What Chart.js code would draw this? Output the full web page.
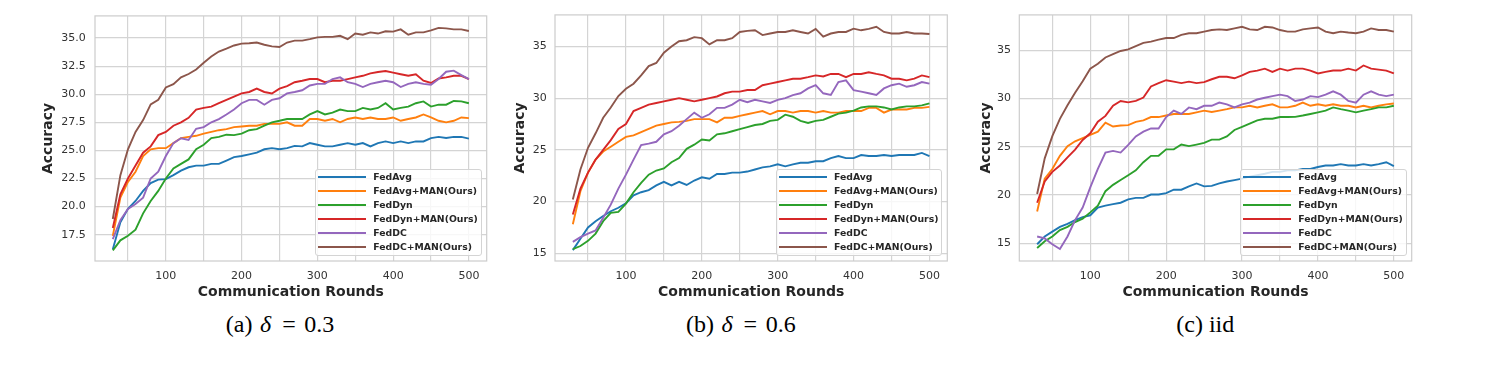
<!DOCTYPE html>
<html><head><meta charset="utf-8">
<script src="https://cdn.jsdelivr.net/npm/chart.js@4.4.1/dist/chart.umd.min.js"></script>
<style>
html,body{margin:0;padding:0;background:#fff;width:1489px;height:373px;overflow:hidden;}
body{position:relative;font-family:'DejaVu Sans',sans-serif;}
canvas{position:absolute;top:0;}
.legend{position:absolute;box-sizing:border-box;border:1px solid #d4d4d4;border-radius:3px;background:rgba(255,255,255,0.8);}
.sw{position:absolute;height:2.4px;}
.lt{position:absolute;font-family:'DejaVu Sans',sans-serif;font-weight:bold;font-size:9.3px;color:#262626;white-space:nowrap;line-height:12px;height:12px;}
.cap{position:absolute;top:312px;width:240px;text-align:center;font-family:'Liberation Serif',serif;font-size:24px;line-height:24px;white-space:nowrap;color:#000;}
.cap span{display:inline-block;}
</style></head><body>
<canvas id="ca" width="490" height="302" style="left:0px"></canvas>
<canvas id="cb" width="458" height="302" style="left:492px"></canvas>
<canvas id="cc" width="440" height="302" style="left:975px"></canvas>
<div class="cap" style="left:160px"><span>(a)</span><span style="margin-left:7.5px;font-style:italic">δ</span><span style="margin-left:11px">=</span><span style="margin-left:8.5px">0.3</span></div>
<div class="cap" style="left:620.8px"><span>(b)</span><span style="margin-left:7.5px;font-style:italic">δ</span><span style="margin-left:11px">=</span><span style="margin-left:8.5px">0.6</span></div>
<div class="cap" style="left:1085.3px">(c) iid</div>
<script>
const rounds = [30,40,50,60,70,80,90,100,110,120,130,140,150,160,170,180,190,200,210,220,230,240,250,260,270,280,290,300,310,320,330,340,350,360,370,380,390,400,410,420,430,440,450,460,470,480,490,500];
const seriesLabels = ['FedAvg','FedAvg+MAN(Ours)','FedDyn','FedDyn+MAN(Ours)','FedDC','FedDC+MAN(Ours)'];
const seriesColors = ['#1f77b4','#ff7f0e','#2ca02c','#d62728','#9467bd','#8c564b'];
const xGridTicks = [50,100,150,200,250,300,350,400,450,500];
const xLabelTicks = [100,200,300,400,500];
const yTicksA = [17.5,20,22.5,25,27.5,30,32.5,35];
const yTicksB = [15,20,25,30,35];
const yTicksC = [15,20,25,30,35];

// (a) delta = 0.3
const a_fedavg = [16.2,18.6,19.8,20.5,21.4,22.1,22.4,22.45,22.8,23.2,23.5,23.65,23.65,23.8,23.8,24.1,24.4,24.5,24.65,24.8,25.1,25.2,25.1,25.2,25.4,25.36,25.65,25.5,25.36,25.36,25.5,25.65,25.5,25.65,25.36,25.65,25.8,25.65,25.8,25.65,25.8,25.8,26.1,26.2,26.1,26.2,26.2,26.05];
const a_fedavg_man = [17.4,20.8,22.2,23.1,24.5,25.1,25.2,25.2,25.65,26.1,26.2,26.3,26.5,26.65,26.8,26.9,27.07,27.13,27.2,27.2,27.36,27.36,27.36,27.5,27.2,27.2,27.8,27.8,27.64,27.8,27.5,27.8,27.93,27.8,27.93,27.8,27.8,27.93,27.64,27.8,27.93,28.2,27.93,27.64,27.5,27.64,27.93,27.87];
const a_feddyn = [16.1,17.0,17.4,17.95,19.4,20.5,21.4,22.5,23.4,23.8,24.2,25.1,25.5,26.1,26.2,26.4,26.36,26.5,26.8,26.9,27.2,27.5,27.64,27.8,27.8,27.8,28.2,28.5,28.2,28.36,28.64,28.5,28.5,28.78,28.64,28.78,29.2,28.64,28.78,28.9,29.2,29.36,28.9,29.07,29.07,29.4,29.36,29.2];
const a_feddyn_man = [18.1,21.1,22.5,23.65,24.8,25.36,26.36,26.65,27.2,27.5,27.9,28.64,28.78,28.9,29.2,29.5,29.78,30.07,30.2,30.5,30.2,30.07,30.5,30.72,31.07,31.2,31.35,31.35,31.07,31.2,31.2,31.35,31.5,31.64,31.86,31.98,32.06,31.92,31.78,31.64,31.78,31.2,31.0,31.4,31.5,31.64,31.64,31.35];
const a_feddc = [17.1,18.8,19.8,20.23,20.8,22.5,23.1,24.5,25.65,26.08,25.93,26.93,27.07,27.5,27.79,28.2,28.64,29.2,29.5,29.5,29.07,29.5,29.64,30.07,30.2,30.35,30.78,30.92,30.92,31.35,31.5,31.07,30.92,30.64,30.92,31.07,31.2,31.07,30.64,30.92,31.07,30.92,30.85,31.35,32.0,32.1,31.7,31.35];
const a_feddc_man = [18.9,22.8,25.1,26.65,27.7,29.1,29.5,30.6,30.9,31.5,31.8,32.2,32.8,33.35,33.8,34.06,34.34,34.5,34.54,34.6,34.4,34.26,34.2,34.6,34.77,34.77,34.9,35.06,35.1,35.1,35.2,34.9,35.4,35.3,35.5,35.4,35.6,35.57,35.77,35.3,35.5,35.5,35.68,35.9,35.86,35.77,35.77,35.63];

// (b) delta = 0.6
const b_fedavg = [15.3,16.4,17.5,18.1,18.6,19.06,19.4,19.84,20.6,20.9,21.1,21.56,21.9,21.56,21.9,21.6,22.03,22.34,22.2,22.66,22.66,22.8,22.8,22.9,23.1,23.3,23.4,23.6,23.4,23.6,23.75,23.75,23.9,23.9,24.2,24.4,24.2,24.2,24.5,24.4,24.4,24.5,24.4,24.5,24.5,24.5,24.7,24.4];
const b_fedavg_man = [17.8,21.0,22.8,24.06,24.84,25.3,25.78,26.25,26.4,26.72,27.03,27.34,27.5,27.66,27.7,27.8,27.97,27.97,27.97,27.66,28.1,28.1,28.28,28.44,28.6,28.75,28.44,28.75,28.75,28.6,28.75,28.75,28.6,28.75,28.6,28.6,28.75,28.75,28.75,29.06,29.06,28.6,28.9,28.9,28.9,29.06,29.06,29.16];
const b_feddyn = [15.4,15.7,16.2,16.9,18.1,18.9,19.0,19.8,20.9,21.8,22.6,23.0,23.2,23.8,24.2,25.1,25.5,26.0,25.9,26.5,26.6,26.8,27.0,27.2,27.4,27.5,27.8,27.9,28.4,28.2,27.8,27.6,27.8,27.9,28.2,28.5,28.6,28.8,29.1,29.2,29.2,29.1,28.9,29.1,29.2,29.2,29.3,29.5];
const b_feddyn_man = [18.75,21.25,22.8,24.06,25.0,25.94,27.03,27.5,28.75,29.06,29.38,29.53,29.69,29.84,30.0,29.84,29.69,29.84,30.0,30.16,30.47,30.63,30.63,30.78,30.78,31.25,31.4,31.56,31.72,31.88,31.88,32.03,32.2,32.1,32.34,32.34,32.03,32.34,32.34,32.5,32.34,32.2,31.88,31.88,31.72,31.88,32.2,32.03];
const b_feddc = [16.1,16.56,16.9,17.2,18.44,19.7,21.25,22.6,24.06,25.47,25.6,25.78,26.5,26.8,27.34,27.97,28.6,28.1,28.44,29.06,29.06,29.38,29.84,29.6,29.84,29.69,29.53,29.84,30.0,30.3,30.47,30.94,31.25,30.47,30.3,31.56,31.72,30.78,30.63,30.47,30.3,30.94,31.25,31.4,31.1,31.25,31.56,31.4];
const b_feddc_man = [20.2,23.1,25.2,26.6,28.1,29.1,30.2,30.9,31.4,32.2,33.1,33.4,34.4,35.0,35.5,35.6,35.9,35.8,35.2,35.6,35.6,35.8,36.4,36.5,36.56,36.1,36.25,36.4,36.4,36.56,36.4,36.25,36.7,35.94,36.25,36.4,36.4,36.72,36.56,36.7,36.9,36.4,36.25,36.25,36.4,36.25,36.25,36.2];

// (c) iid
const c_fedavg = [14.9,15.7,16.2,16.7,17.0,17.4,17.7,17.9,18.7,18.9,19.05,19.2,19.55,19.7,19.7,20.05,20.05,20.2,20.55,20.55,20.9,21.2,20.9,20.95,21.2,21.4,21.55,21.7,21.9,22.05,22.2,22.4,22.4,22.55,22.55,22.7,22.7,22.9,23.06,23.06,23.2,23.06,23.06,23.2,23.06,23.2,23.4,23.0];
const c_fedavg_man = [18.3,21.7,22.7,24.06,25.07,25.57,25.9,26.24,26.57,27.5,27.1,27.2,27.24,27.58,27.74,28.08,28.08,28.24,28.4,28.4,28.4,28.57,28.75,28.6,28.75,28.9,29.08,29.08,29.25,29.08,29.25,29.4,29.08,29.08,29.25,29.58,29.25,29.4,29.25,29.4,29.25,29.25,29.08,29.25,29.08,29.25,29.4,29.48];
const c_feddyn = [14.5,15.2,15.7,16.37,16.7,17.2,17.54,18.2,18.9,20.4,21.05,21.55,22.05,22.56,23.4,24.06,24.06,24.73,24.73,25.23,25.07,25.23,25.4,25.74,25.74,26.07,26.74,27.07,27.4,27.74,27.9,27.9,28.08,28.08,28.1,28.24,28.4,28.57,28.75,29.08,28.9,28.75,28.57,28.75,28.9,29.08,29.08,29.25];
const c_feddyn_man = [19.2,21.4,22.4,23.06,23.9,24.7,25.7,26.4,27.6,28.2,29.25,29.75,29.6,29.75,30.1,31.25,31.6,31.9,31.75,31.6,31.75,31.6,31.7,32.0,32.26,32.26,32.1,32.4,32.76,32.9,33.1,32.76,33.1,32.9,33.1,33.1,32.9,32.6,32.76,32.9,32.9,33.1,32.9,33.43,33.1,33.0,32.9,32.6];
const c_feddc = [15.7,15.5,14.9,14.4,15.7,17.4,18.7,20.8,22.7,24.4,24.57,24.4,25.2,26.07,26.57,26.9,26.9,28.08,28.75,28.4,29.08,28.9,29.25,29.25,29.58,29.4,29.08,29.4,29.58,29.9,30.08,30.25,30.4,30.25,29.75,29.9,30.25,30.15,30.4,30.75,30.4,29.75,29.58,30.4,30.75,30.4,30.25,30.4];
const c_feddc_man = [20.1,23.8,26.1,27.9,29.3,30.6,31.8,33.1,33.6,34.26,34.6,34.93,35.1,35.43,35.77,35.9,36.1,36.27,36.27,36.6,36.77,36.77,36.94,37.1,37.17,37.1,37.27,37.44,37.17,37.1,37.44,37.37,37.1,36.94,36.94,37.17,37.27,37.37,36.94,36.77,36.94,36.84,36.77,36.94,37.27,37.1,37.1,36.94];

const gridColor = '#d4d4d4';
const framePlugin = {
  id: 'frame',
  afterDatasetsDraw(chart) {
    const {ctx, chartArea: {left, top, right, bottom}} = chart;
    ctx.save();
    ctx.strokeStyle = '#cccccc';
    ctx.lineWidth = 1.2;
    ctx.strokeRect(left, top, right - left, bottom - top);
    ctx.restore();
  }
};

function makePanel(p) {
  const datasets = p.series.map((vals, i) => ({
    label: seriesLabels[i],
    data: vals.map((v, k) => ({x: rounds[k], y: v})),
    borderColor: seriesColors[i],
    backgroundColor: seriesColors[i],
    borderWidth: 1.9,
    pointRadius: 0,
    fill: false,
    tension: 0,
    order: 5 - i
  }));
  new Chart(document.getElementById(p.id), {
    type: 'line',
    data: {datasets},
    options: {
      responsive: false,
      animation: false,
      devicePixelRatio: 1,
      layout: {padding: {left: 0, top: 6, right: p.padRight, bottom: 0}},
      plugins: {legend: {display: false}, tooltip: {enabled: false}},
      scales: {
        x: {
          type: 'linear', min: 6.5, max: 523.5,
          afterBuildTicks: s => { s.ticks = xGridTicks.map(v => ({value: v})); },
          afterFit: s => { s.height = 41; },
          grid: {color: gridColor, lineWidth: 1.2, drawTicks: false},
          border: {display: false},
          ticks: {
            padding: 8.5, autoSkip: false, maxRotation: 0,
            font: {family: 'DejaVu Sans', size: 11}, color: '#333333',
            callback: v => xLabelTicks.includes(v) ? String(v) : ''
          },
          title: {
            display: true, text: 'Communication Rounds', color: '#262626',
            font: {family: 'DejaVu Sans', size: 14, weight: 'bold'},
            padding: {top: 0, bottom: 1.5}
          }
        },
        y: {
          type: 'linear', min: p.yMin, max: p.yMax,
          afterBuildTicks: s => { s.ticks = p.yTicks.map(v => ({value: v})); },
          afterFit: s => { s.width = p.yAxisWidth; },
          grid: {color: gridColor, lineWidth: 1.2, drawTicks: false},
          border: {display: false},
          ticks: {
            padding: p.yTickPad, autoSkip: false,
            font: {family: 'DejaVu Sans', size: 11}, color: '#333333',
            callback: v => v.toFixed(p.yDecimals)
          },
          title: {
            display: true, text: 'Accuracy', color: '#262626',
            font: {family: 'DejaVu Sans', size: 14, weight: 'bold'},
            padding: {top: p.yTitlePad, bottom: 0}
          }
        }
      }
    },
    plugins: [framePlugin]
  });
}

makePanel({id: 'ca', padRight: 3.3, yAxisWidth: 95, yMin: 15.16, yMax: 36.97, yTicks: yTicksA, yDecimals: 1, yTickPad: 9.3, yTitlePad: 39.6,
  series: [a_fedavg, a_fedavg_man, a_feddyn, a_feddyn_man, a_feddc, a_feddc_man]});
makePanel({id: 'cb', padRight: 2.7, yAxisWidth: 63, yMin: 14.25, yMax: 38.05, yTicks: yTicksB, yDecimals: 0, yTickPad: 8.3, yTitlePad: 20.4,
  series: [b_fedavg, b_fedavg_man, b_feddyn, b_feddyn_man, b_feddc, b_feddc_man]});
makePanel({id: 'cc', padRight: 3.3, yAxisWidth: 44.3, yMin: 13.16, yMax: 38.67, yTicks: yTicksC, yDecimals: 0, yTickPad: 8.3, yTitlePad: 2.6,
  series: [c_fedavg, c_fedavg_man, c_feddyn, c_feddyn_man, c_feddc, c_feddc_man]});

// HTML legends
const legendBoxes = [
  {left: 315, width: 166.7, lx1: 318.3, lx2: 365.7, tx: 373.3},
  {left: 775.7, width: 166.6, lx1: 779, lx2: 826.7, tx: 834},
  {left: 1240, width: 166.7, lx1: 1243.3, lx2: 1291, tx: 1298.3}
];
legendBoxes.forEach(L => {
  const box = document.createElement('div');
  box.className = 'legend';
  box.style.left = L.left + 'px';
  box.style.top = '168.7px';
  box.style.width = L.width + 'px';
  box.style.height = '87.3px';
  document.body.appendChild(box);
  seriesLabels.forEach((lab, i) => {
    const cy = 176.7 + 14 * i;
    const sw = document.createElement('div');
    sw.className = 'sw';
    sw.style.left = L.lx1 + 'px';
    sw.style.width = (L.lx2 - L.lx1) + 'px';
    sw.style.top = (cy - 1.2) + 'px';
    sw.style.background = seriesColors[i];
    document.body.appendChild(sw);
    const t = document.createElement('div');
    t.className = 'lt';
    t.style.left = L.tx + 'px';
    t.style.top = (cy - 6) + 'px';
    t.textContent = lab;
    document.body.appendChild(t);
  });
});
</script>
</body></html>
